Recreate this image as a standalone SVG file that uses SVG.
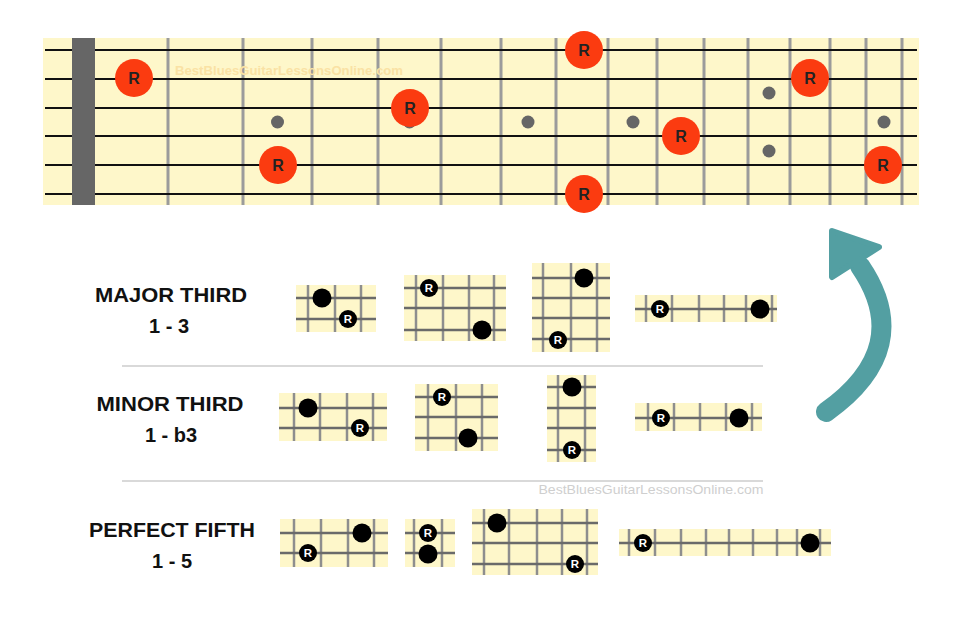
<svg xmlns="http://www.w3.org/2000/svg" width="960" height="640" viewBox="0 0 960 640">
<style>
.bg{fill:#FEF7CA}
.str{stroke:#111;stroke-width:2}
.fret{stroke:#9b9b9b;stroke-width:3}
.sstr{stroke:#6a6a6a;stroke-width:2.6}
.sfret{stroke:#8e8e8e;stroke-width:2.5}
.root{fill:#FB3B10}
.rt{font-family:'Liberation Sans',Arial,sans-serif;font-weight:bold;font-size:16px;fill:#222;text-anchor:middle}
.dot{fill:#666}
.bd{fill:#000}
.sr{fill:#000}
.wt{font-family:'Liberation Sans',Arial,sans-serif;font-weight:bold;font-size:11.5px;fill:#fff;text-anchor:middle}
.lbl{font-family:'Liberation Sans',Arial,sans-serif;font-weight:bold;font-size:20px;fill:#111;text-anchor:middle}
.sep{stroke:#d9d9d9;stroke-width:2}
</style>
<rect width="960" height="640" fill="#fff"/>

<g id="fretboard">
  <rect class="bg" x="43" y="38" width="876" height="167"/>
  <g class="fret">
    <line x1="168" y1="38" x2="168" y2="205"/><line x1="243" y1="38" x2="243" y2="205"/>
    <line x1="312" y1="38" x2="312" y2="205"/><line x1="378" y1="38" x2="378" y2="205"/>
    <line x1="441" y1="38" x2="441" y2="205"/><line x1="501" y1="38" x2="501" y2="205"/>
    <line x1="556" y1="38" x2="556" y2="205"/><line x1="608" y1="38" x2="608" y2="205"/>
    <line x1="657" y1="38" x2="657" y2="205"/><line x1="704" y1="38" x2="704" y2="205"/>
    <line x1="748" y1="38" x2="748" y2="205"/><line x1="790" y1="38" x2="790" y2="205"/>
    <line x1="830" y1="38" x2="830" y2="205"/><line x1="866" y1="38" x2="866" y2="205"/>
    <line x1="902" y1="38" x2="902" y2="205"/>
  </g>
  <g class="str">
    <line x1="45" y1="50" x2="917" y2="50"/><line x1="45" y1="79" x2="917" y2="79"/>
    <line x1="45" y1="108" x2="917" y2="108"/><line x1="45" y1="136" x2="917" y2="136"/>
    <line x1="45" y1="165" x2="917" y2="165"/><line x1="45" y1="194" x2="917" y2="194"/>
  </g>
  <rect x="72" y="38" width="23" height="167" fill="#666"/>
  <g class="dot">
    <circle cx="277.5" cy="122" r="6.5"/><circle cx="409.5" cy="122" r="6.5"/>
    <circle cx="528" cy="122" r="6.5"/><circle cx="633" cy="122" r="6.5"/>
    <circle cx="769" cy="93" r="6.5"/><circle cx="769" cy="151" r="6.5"/>
    <circle cx="884" cy="122" r="6.5"/>
  </g>
  <text x="289" y="75" font-family="'Liberation Sans',Arial,sans-serif" font-weight="bold" font-size="13" fill="#FAE2A4" text-anchor="middle" textLength="228" lengthAdjust="spacingAndGlyphs">BestBluesGuitarLessonsOnline.com</text>
  <g id="root-1"><circle class="root" cx="134" cy="78" r="19"/><text class="rt" x="134" y="84">R</text></g>
  <g id="root-2"><circle class="root" cx="278" cy="165" r="19"/><text class="rt" x="278" y="171">R</text></g>
  <g id="root-3"><circle class="root" cx="410" cy="108" r="19"/><text class="rt" x="410" y="114">R</text></g>
  <g id="root-4"><circle class="root" cx="584" cy="50" r="19"/><text class="rt" x="584" y="56">R</text></g>
  <g id="root-5"><circle class="root" cx="584" cy="194" r="19"/><text class="rt" x="584" y="200">R</text></g>
  <g id="root-6"><circle class="root" cx="681" cy="136" r="19"/><text class="rt" x="681" y="142">R</text></g>
  <g id="root-7"><circle class="root" cx="810" cy="78" r="19"/><text class="rt" x="810" y="84">R</text></g>
  <g id="root-8"><circle class="root" cx="883" cy="165" r="19"/><text class="rt" x="883" y="171">R</text></g>
</g>

<g id="connectors">
  <path d="M826 412 Q916 348 860 266" fill="none" stroke="#539FA2" stroke-width="20" stroke-linecap="round"/>
  <polygon points="832,231 879,247 832,277" fill="#539FA2" stroke="#539FA2" stroke-width="6" stroke-linejoin="round"/>
</g>

<g id="labels">
  <text class="lbl" x="171" y="302" textLength="152" lengthAdjust="spacingAndGlyphs">MAJOR THIRD</text>
  <text class="lbl" x="169" y="333">1 - 3</text>
  <text class="lbl" x="170" y="411" textLength="147" lengthAdjust="spacingAndGlyphs">MINOR THIRD</text>
  <text class="lbl" x="171" y="442">1 - b3</text>
  <text class="lbl" x="172" y="537" textLength="166" lengthAdjust="spacingAndGlyphs">PERFECT FIFTH</text>
  <text class="lbl" x="172" y="568">1 - 5</text>
  <line class="sep" x1="122" y1="366" x2="763" y2="366"/>
  <line class="sep" x1="122" y1="481" x2="763" y2="481"/>
  <text x="651" y="494" font-family="'Liberation Sans',Arial,sans-serif" font-size="13" fill="#cfcfcf" text-anchor="middle" textLength="225" lengthAdjust="spacingAndGlyphs">BestBluesGuitarLessonsOnline.com</text>
</g>

<!-- MAJOR THIRD -->
<g id="maj-1">
  <rect class="bg" x="296" y="285" width="80" height="47"/>
  <g class="sfret"><line x1="308" y1="285" x2="308" y2="332"/><line x1="335" y1="285" x2="335" y2="332"/><line x1="361" y1="285" x2="361" y2="332"/></g>
  <g class="sstr"><line x1="296" y1="298" x2="376" y2="298"/><line x1="296" y1="319" x2="376" y2="319"/></g>
  <circle class="bd" cx="322" cy="298" r="9.5"/>
  <circle class="sr" cx="348" cy="319" r="9"/><text class="wt" x="348" y="323">R</text>
</g>
<g id="maj-2">
  <rect class="bg" x="404" y="275" width="102" height="66"/>
  <g class="sfret"><line x1="416" y1="275" x2="416" y2="341"/><line x1="443" y1="275" x2="443" y2="341"/><line x1="469" y1="275" x2="469" y2="341"/><line x1="494" y1="275" x2="494" y2="341"/></g>
  <g class="sstr"><line x1="404" y1="288" x2="506" y2="288"/><line x1="404" y1="308" x2="506" y2="308"/><line x1="404" y1="330" x2="506" y2="330"/></g>
  <circle class="sr" cx="429" cy="288" r="9"/><text class="wt" x="429" y="292">R</text>
  <circle class="bd" cx="482" cy="330" r="9.5"/>
</g>
<g id="maj-3">
  <rect class="bg" x="532" y="263" width="78" height="89"/>
  <g class="sfret"><line x1="543" y1="263" x2="543" y2="352"/><line x1="571" y1="263" x2="571" y2="352"/><line x1="597" y1="263" x2="597" y2="352"/></g>
  <g class="sstr"><line x1="532" y1="278" x2="610" y2="278"/><line x1="532" y1="298" x2="610" y2="298"/><line x1="532" y1="318" x2="610" y2="318"/><line x1="532" y1="339" x2="610" y2="339"/></g>
  <circle class="bd" cx="584" cy="278" r="9.5"/>
  <circle class="sr" cx="558" cy="340" r="9"/><text class="wt" x="558" y="344">R</text>
</g>
<g id="maj-4">
  <rect class="bg" x="635" y="295" width="142" height="27"/>
  <g class="sfret"><line x1="646" y1="295" x2="646" y2="322"/><line x1="672" y1="295" x2="672" y2="322"/><line x1="699" y1="295" x2="699" y2="322"/><line x1="724" y1="295" x2="724" y2="322"/><line x1="746" y1="295" x2="746" y2="322"/><line x1="772" y1="295" x2="772" y2="322"/></g>
  <line class="sstr" x1="635" y1="309" x2="777" y2="309"/>
  <circle class="sr" cx="660" cy="309" r="9"/><text class="wt" x="660" y="313">R</text>
  <circle class="bd" cx="760" cy="309" r="9.5"/>
</g>

<!-- MINOR THIRD -->
<g id="min-1">
  <rect class="bg" x="279" y="393" width="108" height="48"/>
  <g class="sfret"><line x1="294" y1="393" x2="294" y2="441"/><line x1="320" y1="393" x2="320" y2="441"/><line x1="347" y1="393" x2="347" y2="441"/><line x1="373" y1="393" x2="373" y2="441"/></g>
  <g class="sstr"><line x1="279" y1="408" x2="387" y2="408"/><line x1="279" y1="428" x2="387" y2="428"/></g>
  <circle class="bd" cx="308" cy="408" r="9.5"/>
  <circle class="sr" cx="360" cy="428" r="9"/><text class="wt" x="360" y="432">R</text>
</g>
<g id="min-2">
  <rect class="bg" x="415" y="384" width="83" height="67"/>
  <g class="sfret"><line x1="428" y1="384" x2="428" y2="451"/><line x1="456" y1="384" x2="456" y2="451"/><line x1="482" y1="384" x2="482" y2="451"/></g>
  <g class="sstr"><line x1="415" y1="397" x2="498" y2="397"/><line x1="415" y1="417" x2="498" y2="417"/><line x1="415" y1="438" x2="498" y2="438"/></g>
  <circle class="sr" cx="442" cy="397" r="9"/><text class="wt" x="442" y="401">R</text>
  <circle class="bd" cx="468" cy="438" r="9.5"/>
</g>
<g id="min-3">
  <rect class="bg" x="547" y="375" width="49" height="87"/>
  <g class="sfret"><line x1="558" y1="375" x2="558" y2="462"/><line x1="585" y1="375" x2="585" y2="462"/></g>
  <g class="sstr"><line x1="547" y1="387" x2="596" y2="387"/><line x1="547" y1="408" x2="596" y2="408"/><line x1="547" y1="428" x2="596" y2="428"/><line x1="547" y1="450" x2="596" y2="450"/></g>
  <circle class="bd" cx="572" cy="387" r="9.5"/>
  <circle class="sr" cx="572" cy="450" r="9"/><text class="wt" x="572" y="454">R</text>
</g>
<g id="min-4">
  <rect class="bg" x="635" y="403" width="127" height="28"/>
  <g class="sfret"><line x1="648" y1="403" x2="648" y2="431"/><line x1="674" y1="403" x2="674" y2="431"/><line x1="700" y1="403" x2="700" y2="431"/><line x1="726" y1="403" x2="726" y2="431"/><line x1="752" y1="403" x2="752" y2="431"/></g>
  <line class="sstr" x1="635" y1="418" x2="762" y2="418"/>
  <circle class="sr" cx="661" cy="418" r="9"/><text class="wt" x="661" y="422">R</text>
  <circle class="bd" cx="739" cy="418" r="9.5"/>
</g>

<!-- PERFECT FIFTH -->
<g id="fifth-1">
  <rect class="bg" x="280" y="519" width="108" height="48"/>
  <g class="sfret"><line x1="294" y1="519" x2="294" y2="567"/><line x1="321" y1="519" x2="321" y2="567"/><line x1="348" y1="519" x2="348" y2="567"/><line x1="374" y1="519" x2="374" y2="567"/></g>
  <g class="sstr"><line x1="280" y1="533" x2="388" y2="533"/><line x1="280" y1="553" x2="388" y2="553"/></g>
  <circle class="bd" cx="362" cy="533" r="9.5"/>
  <circle class="sr" cx="308" cy="553" r="9"/><text class="wt" x="308" y="557">R</text>
</g>
<g id="fifth-2">
  <rect class="bg" x="405" y="519" width="50" height="48"/>
  <g class="sfret"><line x1="414" y1="519" x2="414" y2="567"/><line x1="442" y1="519" x2="442" y2="567"/></g>
  <g class="sstr"><line x1="405" y1="533" x2="455" y2="533"/><line x1="405" y1="553" x2="455" y2="553"/></g>
  <circle class="bd" cx="428" cy="554" r="9.5"/>
  <circle class="sr" cx="428" cy="533" r="9"/><text class="wt" x="428" y="537">R</text>
</g>
<g id="fifth-3">
  <rect class="bg" x="472" y="509" width="126" height="66"/>
  <g class="sfret"><line x1="484" y1="509" x2="484" y2="575"/><line x1="509" y1="509" x2="509" y2="575"/><line x1="537" y1="509" x2="537" y2="575"/><line x1="562" y1="509" x2="562" y2="575"/><line x1="587" y1="509" x2="587" y2="575"/></g>
  <g class="sstr"><line x1="472" y1="523" x2="598" y2="523"/><line x1="472" y1="543" x2="598" y2="543"/><line x1="472" y1="564" x2="598" y2="564"/></g>
  <circle class="bd" cx="497" cy="523" r="9.5"/>
  <circle class="sr" cx="575" cy="564" r="9"/><text class="wt" x="575" y="568">R</text>
</g>
<g id="fifth-4">
  <rect class="bg" x="619" y="529" width="212" height="27"/>
  <g class="sfret"><line x1="629" y1="529" x2="629" y2="556"/><line x1="655" y1="529" x2="655" y2="556"/><line x1="681" y1="529" x2="681" y2="556"/><line x1="706" y1="529" x2="706" y2="556"/><line x1="729" y1="529" x2="729" y2="556"/><line x1="753" y1="529" x2="753" y2="556"/><line x1="777" y1="529" x2="777" y2="556"/><line x1="797" y1="529" x2="797" y2="556"/><line x1="820" y1="529" x2="820" y2="556"/></g>
  <line class="sstr" x1="619" y1="543" x2="831" y2="543"/>
  <circle class="sr" cx="643" cy="543" r="9"/><text class="wt" x="643" y="547">R</text>
  <circle class="bd" cx="810" cy="543" r="9.5"/>
</g>
</svg>
